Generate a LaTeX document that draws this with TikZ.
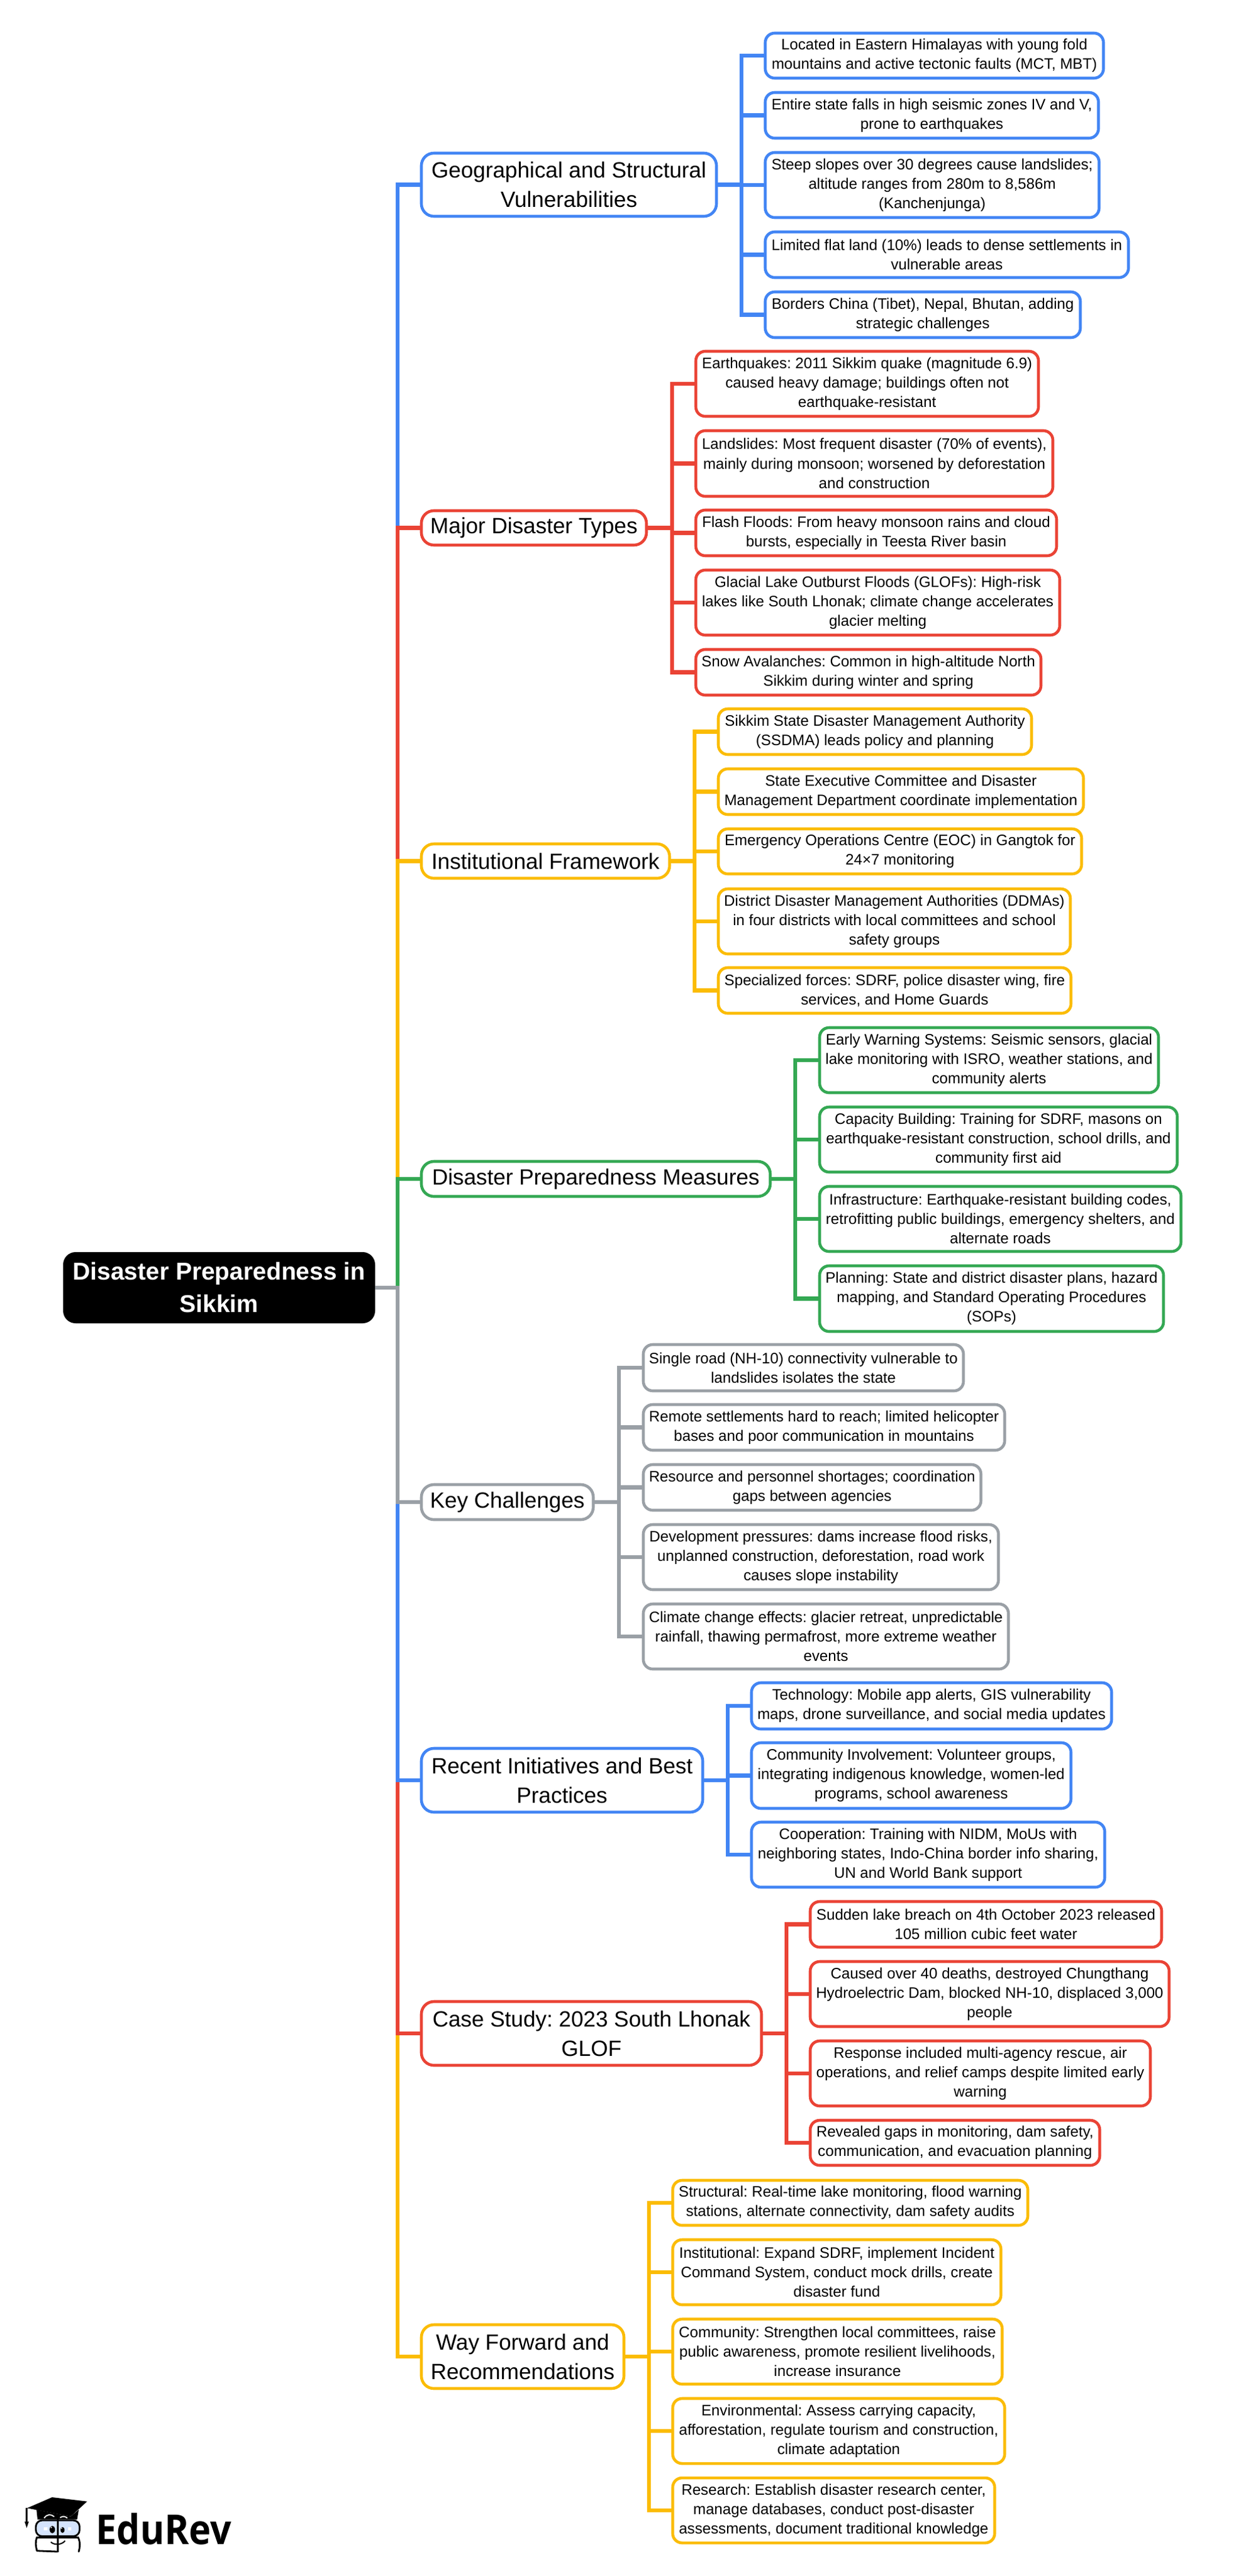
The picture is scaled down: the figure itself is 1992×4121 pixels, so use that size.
\documentclass[tikz,border=0pt]{standalone}
\usepackage{fontspec}
\setmainfont{Liberation Sans}
\newfontfamily\logofont{Open Sans}
\definecolor{cblue}{HTML}{4285F4}
\definecolor{cred}{HTML}{EA4335}
\definecolor{cyellow}{HTML}{FBBC05}
\definecolor{cgreen}{HTML}{34A853}
\definecolor{cgray}{HTML}{9AA0A6}
\tikzset{
  boxbase/.style={shape=rectangle,fill=white,inner sep=0pt,outer sep=0pt,align=center,text=black},
  leafbox/.style={boxbase,rounded corners=7.5pt,line width=2.3pt,font=\fontsize{12.1}{15.6}\selectfont\frenchspacing},
  branchbox/.style={boxbase,rounded corners=10pt,line width=2.3pt,font=\fontsize{17.65}{23.5}\selectfont\frenchspacing},
  rootbox/.style={shape=rectangle,fill=black,inner sep=0pt,outer sep=0pt,align=center,text=white,rounded corners=10pt,font=\fontsize{19.5}{26}\selectfont\bfseries\frenchspacing},
  wire/.style={line width=3.1pt}
}
\newcommand{\mmbox}[7]{%
  \pgfmathsetmacro{\mmw}{(#5-#3)*0.5}%
  \pgfmathsetmacro{\mmh}{(#6-#4)*0.5}%
  \node[#2,minimum width=\mmw pt,minimum height=\mmh pt] (#1) at ({(#3+#5)/2},{(#4+#6)/2}) {#7};}
\begin{document}
\begin{tikzpicture}[x=0.5pt,y=-0.5pt]
\path[use as bounding box,fill=white] (0,0) rectangle (1992,4121);

\mmbox{root}{rootbox}{101}{2003}{600}{2117}{Disaster Preparedness in\\Sikkim}

% branches
\mmbox{geo}{branchbox,draw=cblue}{674}{245}{1146}{346}{Geographical and Structural\\Vulnerabilities}
\mmbox{major}{branchbox,draw=cred}{674}{817}{1034}{872}{Major Disaster Types}
\mmbox{inst}{branchbox,draw=cyellow}{674}{1350}{1071}{1405}{Institutional Framework}
\mmbox{prep}{branchbox,draw=cgreen}{674}{1858}{1232}{1914}{Disaster Preparedness Measures}
\mmbox{key}{branchbox,draw=cgray}{674}{2375}{949}{2431}{Key Challenges}
\mmbox{recent}{branchbox,draw=cblue}{674}{2797}{1124}{2899}{Recent Initiatives and Best\\Practices}
\mmbox{case}{branchbox,draw=cred}{674}{3202}{1218}{3304}{Case Study: 2023 South Lhonak\\GLOF}
\mmbox{way}{branchbox,draw=cyellow}{674}{3719}{998}{3821}{Way Forward and\\Recommendations}

% Geographical leaves
\mmbox{ga}{leafbox,draw=cblue}{1224}{53}{1765}{125}{Located in Eastern Himalayas with young fold\\mountains and active tectonic faults (MCT, MBT)}
\mmbox{gb}{leafbox,draw=cblue}{1224}{148}{1757}{221}{Entire state falls in high seismic zones IV and V,\\prone to earthquakes}
\mmbox{gc}{leafbox,draw=cblue}{1224}{244}{1758}{348}{Steep slopes over 30 degrees cause landslides;\\altitude ranges from 280m to 8,586m\\(Kanchenjunga)}
\mmbox{gd}{leafbox,draw=cblue}{1224}{371}{1805}{444}{Limited flat land (10\%) leads to dense settlements in\\vulnerable areas}
\mmbox{ge}{leafbox,draw=cblue}{1224}{467}{1728}{540}{Borders China (Tibet), Nepal, Bhutan, adding\\strategic challenges}

% Major leaves
\mmbox{ma}{leafbox,draw=cred}{1113}{562}{1661}{666}{Earthquakes: 2011 Sikkim quake (magnitude 6.9)\\caused heavy damage; buildings often not\\earthquake-resistant}
\mmbox{mb}{leafbox,draw=cred}{1113}{689}{1684}{794}{Landslides: Most frequent disaster (70\% of events),\\mainly during monsoon; worsened by deforestation\\and construction}
\mmbox{mc}{leafbox,draw=cred}{1113}{816}{1690}{889}{Flash Floods: From heavy monsoon rains and cloud\\bursts, especially in Teesta River basin}
\mmbox{md}{leafbox,draw=cred}{1113}{912}{1695}{1016}{Glacial Lake Outburst Floods (GLOFs): High-risk\\lakes like South Lhonak; climate change accelerates\\glacier melting}
\mmbox{me}{leafbox,draw=cred}{1113}{1039}{1665}{1112}{Snow Avalanches: Common in high-altitude North\\Sikkim during winter and spring}

% Institutional leaves
\mmbox{ia}{leafbox,draw=cyellow}{1149}{1134}{1650}{1207}{Sikkim State Disaster Management Authority\\(SSDMA) leads policy and planning}
\mmbox{ib}{leafbox,draw=cyellow}{1149}{1230}{1733}{1303}{State Executive Committee and Disaster\\Management Department coordinate implementation}
\mmbox{ic}{leafbox,draw=cyellow}{1149}{1326}{1730}{1398}{Emergency Operations Centre (EOC) in Gangtok for\\24×7 monitoring}
\mmbox{id}{leafbox,draw=cyellow}{1149}{1422}{1712}{1526}{District Disaster Management Authorities (DDMAs)\\in four districts with local committees and school\\safety groups}
\mmbox{ie}{leafbox,draw=cyellow}{1149}{1548}{1713}{1621}{Specialized forces: SDRF, police disaster wing, fire\\services, and Home Guards}

% Preparedness leaves
\mmbox{pa}{leafbox,draw=cgreen}{1311}{1644}{1853}{1748}{Early Warning Systems: Seismic sensors, glacial\\lake monitoring with ISRO, weather stations, and\\community alerts}
\mmbox{pb}{leafbox,draw=cgreen}{1311}{1771}{1883}{1875}{Capacity Building: Training for SDRF, masons on\\earthquake-resistant construction, school drills, and\\community first aid}
\mmbox{pc}{leafbox,draw=cgreen}{1311}{1898}{1889}{2002}{Infrastructure: Earthquake-resistant building codes,\\retrofitting public buildings, emergency shelters, and\\alternate roads}
\mmbox{pd}{leafbox,draw=cgreen}{1311}{2025}{1861}{2130}{Planning: State and district disaster plans, hazard\\mapping, and Standard Operating Procedures\\(SOPs)}

% Key challenges leaves
\mmbox{ka}{leafbox,draw=cgray}{1029}{2151}{1541}{2225}{Single road (NH-10) connectivity vulnerable to\\landslides isolates the state}
\mmbox{kb}{leafbox,draw=cgray}{1029}{2247}{1607}{2320}{Remote settlements hard to reach; limited helicopter\\bases and poor communication in mountains}
\mmbox{kc}{leafbox,draw=cgray}{1029}{2343}{1569}{2416}{Resource and personnel shortages; coordination\\gaps between agencies}
\mmbox{kd}{leafbox,draw=cgray}{1029}{2439}{1597}{2543}{Development pressures: dams increase flood risks,\\unplanned construction, deforestation, road work\\causes slope instability}
\mmbox{ke}{leafbox,draw=cgray}{1029}{2566}{1613}{2670}{Climate change effects: glacier retreat, unpredictable\\rainfall, thawing permafrost, more extreme weather\\events}

% Recent leaves
\mmbox{ra}{leafbox,draw=cblue}{1202}{2692}{1778}{2766}{Technology: Mobile app alerts, GIS vulnerability\\maps, drone surveillance, and social media updates}
\mmbox{rb}{leafbox,draw=cblue}{1202}{2788}{1713}{2893}{Community Involvement: Volunteer groups,\\integrating indigenous knowledge, women-led\\programs, school awareness}
\mmbox{rc}{leafbox,draw=cblue}{1202}{2915}{1767}{3019}{Cooperation: Training with NIDM, MoUs with\\neighboring states, Indo-China border info sharing,\\UN and World Bank support}

% Case leaves
\mmbox{ca}{leafbox,draw=cred}{1296}{3042}{1858}{3115}{Sudden lake breach on 4th October 2023 released\\105 million cubic feet water}
\mmbox{cb}{leafbox,draw=cred}{1296}{3138}{1870}{3242}{Caused over 40 deaths, destroyed Chungthang\\Hydroelectric Dam, blocked NH-10, displaced 3,000\\people}
\mmbox{cc}{leafbox,draw=cred}{1296}{3265}{1840}{3369}{Response included multi-agency rescue, air\\operations, and relief camps despite limited early\\warning}
\mmbox{cd}{leafbox,draw=cred}{1296}{3392}{1759}{3464}{Revealed gaps in monitoring, dam safety,\\communication, and evacuation planning}

% Way forward leaves
\mmbox{wa}{leafbox,draw=cyellow}{1076}{3488}{1644}{3560}{Structural: Real-time lake monitoring, flood warning\\stations, alternate connectivity, dam safety audits}
\mmbox{wb}{leafbox,draw=cyellow}{1076}{3583}{1601}{3687}{Institutional: Expand SDRF, implement Incident\\Command System, conduct mock drills, create\\disaster fund}
\mmbox{wc}{leafbox,draw=cyellow}{1076}{3710}{1603}{3814}{Community: Strengthen local committees, raise\\public awareness, promote resilient livelihoods,\\increase insurance}
\mmbox{wd}{leafbox,draw=cyellow}{1076}{3837}{1607}{3941}{Environmental: Assess carrying capacity,\\afforestation, regulate tourism and construction,\\climate adaptation}
\mmbox{we}{leafbox,draw=cyellow}{1076}{3964}{1591}{4068}{Research: Establish disaster research center,\\manage databases, conduct post-disaster\\assessments, document traditional knowledge}

% bus coordinates
\coordinate (trunk) at (636,0);
\coordinate (geobus) at (1186,0);
\coordinate (majorbus) at (1075,0);
\coordinate (instbus) at (1111,0);
\coordinate (prepbus) at (1272,0);
\coordinate (keybus) at (990,0);
\coordinate (recentbus) at (1164,0);
\coordinate (casebus) at (1258,0);
\coordinate (waybus) at (1038,0);

% trunk connectors, later ones overlay earlier ones
\draw[wire,cblue] (root.east) -- (root.east -| trunk) |- (geo.west);
\draw[wire,cred] (root.east) -- (root.east -| trunk) |- (major.west);
\draw[wire,cyellow] (root.east) -- (root.east -| trunk) |- (inst.west);
\draw[wire,cgreen] (root.east) -- (root.east -| trunk) |- (prep.west);
\draw[wire,cyellow] (root.east) -- (root.east -| trunk) |- (way.west);
\draw[wire,cred] (root.east) -- (root.east -| trunk) |- (case.west);
\draw[wire,cblue] (root.east) -- (root.east -| trunk) |- (recent.west);
\draw[wire,cgray] (root.east) -- (root.east -| trunk) |- (key.west);

% leaf connectors
\foreach \t in {ga,gb,gc,gd,ge} \draw[wire,cblue] (geo.east) -- (geo.east -| geobus) |- (\t.west);
\foreach \t in {ma,mb,mc,md,me} \draw[wire,cred] (major.east) -- (major.east -| majorbus) |- (\t.west);
\foreach \t in {ia,ib,ic,id,ie} \draw[wire,cyellow] (inst.east) -- (inst.east -| instbus) |- (\t.west);
\foreach \t in {pa,pb,pc,pd} \draw[wire,cgreen] (prep.east) -- (prep.east -| prepbus) |- (\t.west);
\foreach \t in {ka,kb,kc,kd,ke} \draw[wire,cgray] (key.east) -- (key.east -| keybus) |- (\t.west);
\foreach \t in {ra,rb,rc} \draw[wire,cblue] (recent.east) -- (recent.east -| recentbus) |- (\t.west);
\foreach \t in {ca,cb,cc,cd} \draw[wire,cred] (case.east) -- (case.east -| casebus) |- (\t.west);
\foreach \t in {wa,wb,wc,wd,we} \draw[wire,cyellow] (way.east) -- (way.east -| waybus) |- (\t.west);

% logo
\node[anchor=base west,inner sep=0pt,font=\logofont\bfseries\fontsize{33}{33}\selectfont] (logotext) at (153,4070) {\scalebox{0.9}[1]{EduRev}};
\begin{scope}[shift={(20,3960)},x=0.16667pt,y=-0.16667pt]
  % lower body
  \draw[line width=1.4pt,line cap=round] (117,362) .. controls (112,340) and (108,320) .. (117,298) -- (315,298) .. controls (326,320) and (324,345) .. (318,366);
  \draw[line width=1.4pt] (117,362) -- (217,366);
  % upper body
  \draw[line width=1.4pt,fill=cblue!22!white,rounded corners=5pt] (112,216) rectangle (322,292);
  % cap back
  \fill (115,165) -- (280,197) -- (318,165) -- (310,212) -- (120,212) -- cycle;
  \draw[white,line width=0.9pt] (152,205) .. controls (165,185) and (185,185) .. (200,198);
  \draw[white,line width=0.9pt] (228,203) .. controls (240,195) and (252,195) .. (263,205);
  % mortarboard
  \fill (70,157) -- (190,105) -- (358,125) -- (280,197) -- cycle;
  \draw[line width=1.3pt] (68,157) -- (68,222);
  \fill (58,222) -- (78,222) -- (68,252) -- cycle;
  % centre line
  \draw[line width=1.2pt] (217,210) -- (217,370);
  % windows
  \fill[white] (151,248) rectangle (168,264);
  \fill[white] (266,248) rectangle (283,264);
  % eyes
  \fill (191,260) ellipse [x radius=13,y radius=18];
  \fill (240,262) ellipse [x radius=10,y radius=14];
  \fill[white] (186,250) circle [radius=3.5];
  \fill[white] (236,254) circle [radius=3];
  % smile
  \draw[line width=1pt] (184,320) .. controls (200,335) and (235,335) .. (252,314);
\end{scope}
\end{tikzpicture}
\end{document}
